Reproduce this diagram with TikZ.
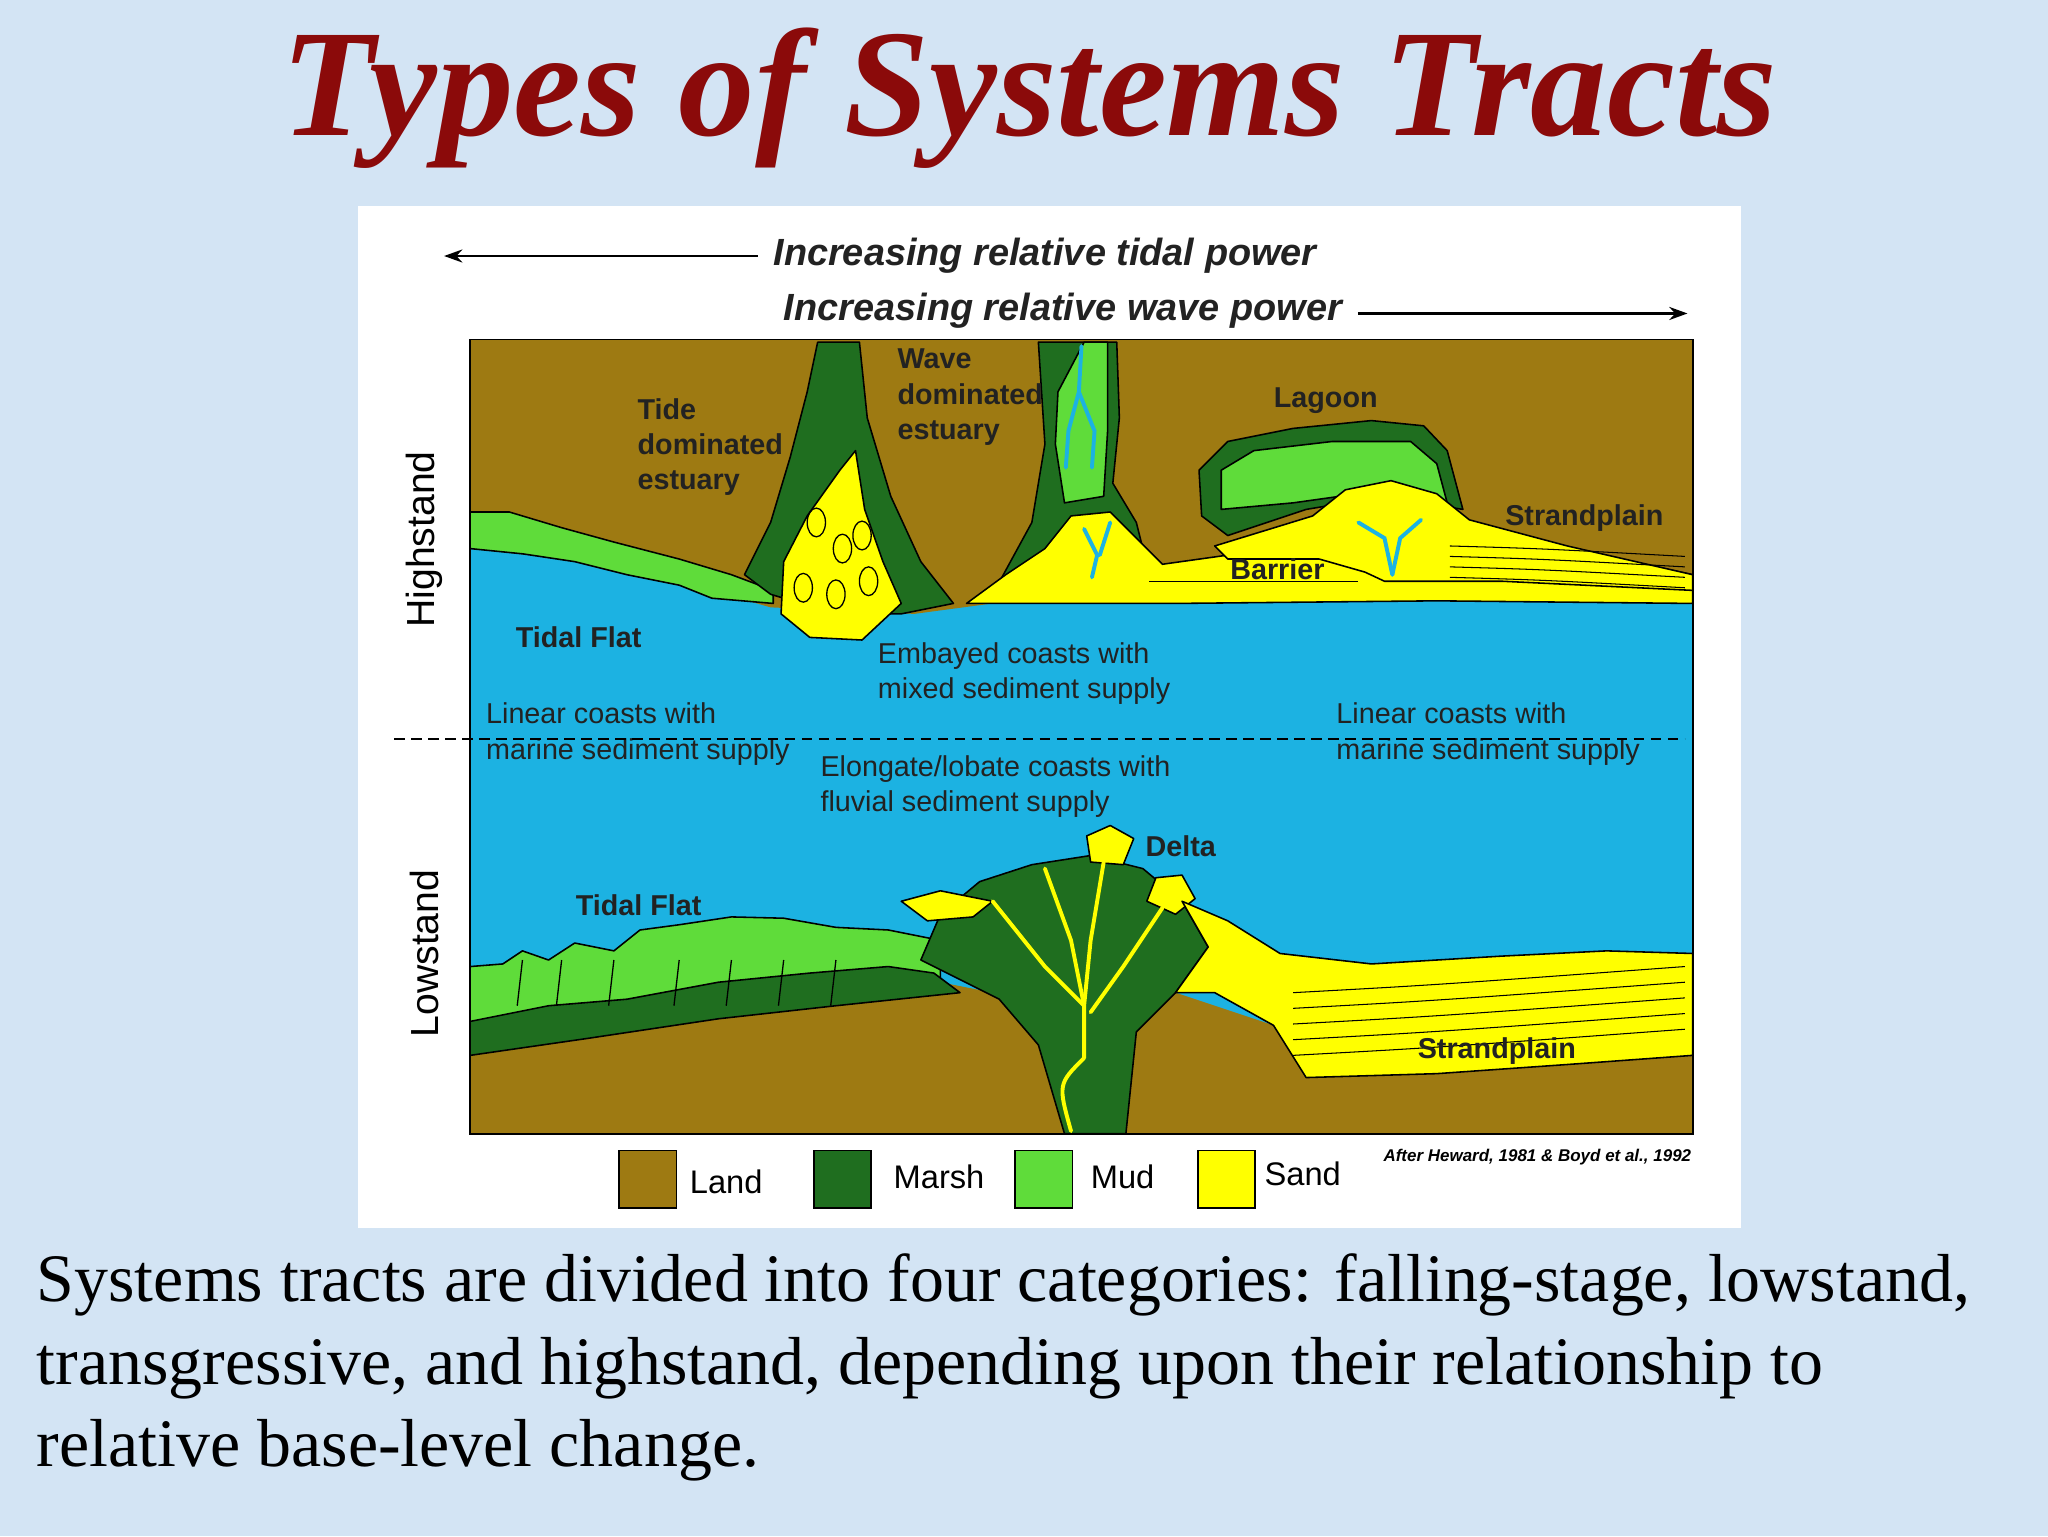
\documentclass[tikz,border=0pt]{standalone}
\usepackage{fontspec}
\setmainfont{Liberation Serif}
\setsansfont{Liberation Sans}
\usetikzlibrary{arrows.meta}
\definecolor{bgc}{HTML}{D3E4F4}
\definecolor{ttl}{HTML}{8B0A0A}
\definecolor{land}{HTML}{9E7A12}
\definecolor{marsh}{HTML}{1F6E1F}
\definecolor{mud}{HTML}{5FDC3A}
\definecolor{sand}{HTML}{FFFF00}
\definecolor{water}{HTML}{1CB2E2}
\definecolor{ink}{HTML}{222222}
\tikzset{
 lbl/.style={font=\sffamily\bfseries\fontsize{22}{27}\selectfont,text=ink,align=left,inner sep=0pt},
 rlbl/.style={font=\sffamily\fontsize{22}{27}\selectfont,text=ink,align=left,inner sep=0pt,anchor=north west},
 hdr/.style={font=\sffamily\bfseries\itshape\fontsize{29}{30}\selectfont,text=ink,inner sep=0pt},
 ol/.style={draw=black,line width=1.2pt,line join=round},
 lg/.style={draw=black,line width=1.2pt,minimum width=44pt,minimum height=44pt,inner sep=0pt},
 lgt/.style={font=\sffamily\fontsize{25}{26}\selectfont,anchor=west,inner sep=0pt},
 chan/.style={draw=sand,line width=3pt,line cap=round},
 bchan/.style={draw=water,line width=3pt,line cap=round},
 strand/.style={draw=black,line width=0.8pt}
}
\begin{document}
\begin{tikzpicture}[x=1pt,y=-1pt]
\useasboundingbox (0,0) rectangle (1568,1176);
\fill[bgc] (0,0) rectangle (1568,1176);
\node[font=\bfseries\itshape\fontsize{117}{117}\selectfont,text=ttl,inner sep=0pt] (title) at (788,75) {Types of Systems Tracts};
\fill[white] (274,158) rectangle (1333,940);
% headers
\node[hdr,anchor=west] (tidal) at (592,196) {Increasing relative tidal power};
\coordinate (ta) at (340,196);
\draw[line width=2pt,-{Stealth[length=14pt,width=10pt]}] (tidal.west)+(-12,0) -- (ta);
\node[hdr,anchor=west] (wave) at (600,238) {Increasing relative wave power};
\coordinate (wa) at (1292,240);
\draw[line width=2pt,-{Stealth[length=14pt,width=10pt]}] (wave.east)+(12,2) -- (wa);
% map water
\fill[water] (360,260) rectangle (1296,868);
% ---------- highstand ----------
\fill[land] (360,260) -- (1296,260) -- (1296,440) -- (760,462) -- (700,470) -- (590,465) -- (520,445) -- (450,430) -- (360,420) -- cycle;
\filldraw[fill=mud,ol] (360,392) -- (390,392) -- (430,404) -- (470,415) -- (520,428) -- (560,440) -- (592,452) -- (592,462) -- (545,458) -- (520,448) -- (480,440) -- (440,430) -- (400,424) -- (360,420);
\filldraw[fill=marsh,ol] (626,262) -- (658,262) -- (664,320) -- (682,380) -- (705,430) -- (730,462) -- (690,470) -- (640,470) -- (590,455) -- (570,440) -- (590,400) -- (605,350) -- (618,300) -- cycle;
\filldraw[fill=sand,ol] (643,360) -- (655,345) -- (662,390) -- (676,430) -- (690,462) -- (660,490) -- (620,488) -- (598,470) -- (600,430) -- (618,395) -- cycle;
\foreach \p in {(625,400),(645,420),(615,450),(640,455),(665,445),(660,410)}{\draw[black,line width=1pt] \p ellipse (7 and 11);}
% wave estuary
\filldraw[fill=marsh,ol] (795,262) -- (855,262) -- (857,320) -- (852,370) -- (870,400) -- (880,440) -- (760,455) -- (790,400) -- (800,340) -- cycle;
\filldraw[fill=mud,ol] (810,300) -- (830,262) -- (848,262) -- (848,330) -- (845,380) -- (815,385) -- (808,340) -- cycle;
\draw[bchan] (828,265) -- (826,300) -- (818,330) -- (816,358);
\draw[bchan] (826,300) -- (838,330) -- (836,358);
\filldraw[fill=sand,ol] (740,462) -- (770,440) -- (800,420) -- (820,395) -- (850,392) -- (878,420) -- (890,432) -- (940,425) -- (1000,420) -- (1060,410) -- (1120,400) -- (1200,420) -- (1296,440) -- (1296,462) -- (1100,460) -- (900,462) -- cycle;
\draw[bchan] (830,405) -- (840,425) -- (836,442);
\draw[bchan] (850,400) -- (842,425);
% lagoon
\filldraw[fill=marsh,ol] (920,395) -- (918,360) -- (940,338) -- (990,328) -- (1050,322) -- (1090,326) -- (1108,345) -- (1120,390) -- (1060,380) -- (1000,390) -- (940,410) -- cycle;
\filldraw[fill=mud,ol] (935,390) -- (935,360) -- (960,345) -- (1020,338) -- (1080,338) -- (1100,355) -- (1108,385) -- (1040,378) -- (990,385) -- cycle;
\filldraw[fill=sand,ol] (1005,395) -- (1030,375) -- (1065,368) -- (1100,378) -- (1125,398) -- (1200,418) -- (1296,440) -- (1296,452) -- (1150,445) -- (1060,445) -- (1045,438) -- (1010,428) -- (940,428) -- (930,418) -- cycle;
\draw[bchan] (1040,400) -- (1060,412) -- (1066,440);
\draw[bchan] (1088,398) -- (1072,412) -- (1066,440);
\foreach \yy in {418,426,434,442}{\draw[strand] (1110,\yy) .. controls (1180,\yy+2) .. (1290,\yy+8);}
\draw[strand] (880,445) -- (1040,445);
% ---------- lowstand ----------
\fill[land] (360,800) -- (720,752) -- (760,760) -- (900,760) -- (975,785) -- (1000,825) -- (1296,808) -- (1296,868) -- (360,868) -- cycle;
\filldraw[fill=mud,ol] (360,740) -- (385,738) -- (400,728) -- (420,735) -- (440,722) -- (470,728) -- (490,712) -- (520,708) -- (560,702) -- (600,703) -- (640,710) -- (680,712) -- (720,720) -- (720,752) -- (650,745) -- (560,760) -- (470,770) -- (400,780) -- (360,785) -- cycle;
\filldraw[fill=marsh,ol] (360,782) -- (420,770) -- (480,765) -- (550,752) -- (620,745) -- (680,740) -- (715,745) -- (735,760) -- (640,770) -- (550,780) -- (450,795) -- (360,808) -- cycle;
\foreach \x in {400,430,470,520,560,600,640}{\draw[black,line width=1pt] (\x,735) -- (\x-4,770);}
% delta
\filldraw[fill=marsh,ol] (705,735) -- (720,700) -- (750,675) -- (790,662) -- (835,655) -- (875,665) -- (905,690) -- (925,725) -- (900,760) -- (870,790) -- (862,868) -- (815,868) -- (795,800) -- (765,765) -- cycle;
\filldraw[fill=sand,ol] (690,690) -- (720,682) -- (760,690) -- (745,702) -- (710,705) -- cycle;
\filldraw[fill=sand,ol] (835,660) -- (832,640) -- (850,632) -- (868,642) -- (860,662) -- cycle;
\filldraw[fill=sand,ol] (878,690) -- (885,672) -- (905,670) -- (915,688) -- (900,700) -- cycle;
\draw[chan] (845,660) -- (835,720) -- (830,770) -- (830,810);
\draw[chan] (800,665) -- (820,720) -- (830,770);
\draw[chan] (760,690) -- (800,740) -- (830,770);
\draw[chan] (890,695) -- (860,740) -- (835,775);
\draw[chan] (830,810) .. controls (810,830) .. (820,866);
% right sand
\filldraw[fill=sand,ol] (905,690) -- (940,705) -- (980,730) -- (1050,738) -- (1150,732) -- (1230,728) -- (1296,730) -- (1296,808) -- (1200,815) -- (1100,822) -- (1000,825) -- (975,785) -- (930,760) -- (900,760) -- (925,725) -- cycle;
\foreach \yy in {760,772,784,796,808}{\draw[strand] (990,\yy) .. controls (1100,\yy-6) .. (1290,\yy-20);}
% labels
\node[lbl,anchor=north west] (hst) at (488,305) {Tide\\dominated\\estuary};
\node[lbl,anchor=north west] (wde) at (687,267) {Wave\\dominated\\estuary};
\node[lbl] (lag) at (1015,307) {Lagoon};
\node[lbl] (sp1) at (1213,397) {Strandplain};
\node[lbl] (bar) at (978,436) {Barrier};
\node[lbl] (tf1) at (443,488) {Tidal Flat};
\node[rlbl] (emb) at (672,492) {Embayed coasts with\\mixed sediment supply};
\node[rlbl] (lin1) at (372,538) {Linear coasts with\\marine sediment supply};
\node[rlbl] (lin2) at (1023,538) {Linear coasts with\\marine sediment supply};
\node[rlbl] (elo) at (628,578) {Elongate/lobate coasts with\\fluvial sediment supply};
\node[lbl] (del) at (904,648) {Delta};
\node[lbl] (tf2) at (489,693) {Tidal Flat};
\node[lbl] (sp2) at (1146,805) {Strandplain};
\draw[black,line width=1.3pt,dashed,dash pattern=on 8pt off 5pt] (302,566) -- (1290,566);
\draw[black,line width=1.3pt] (360,260) rectangle (1296,868);
\node[font=\sffamily\fontsize{30}{30}\selectfont,rotate=90,inner sep=0pt] (hs) at (325,413) {Highstand};
\node[font=\sffamily\fontsize{30}{30}\selectfont,rotate=90,inner sep=0pt] (ls) at (325,730) {Lowstand};
% legend
\node[lg,fill=land] (lland) at (496,903) {};
\node[lgt] (tland) at (528,905) {Land};
\node[lg,fill=marsh] (lmarsh) at (645,903) {};
\node[lgt] (tmarsh) at (684,901) {Marsh};
\node[lg,fill=mud] (lmud) at (799,903) {};
\node[lgt] (tmud) at (835,901) {Mud};
\node[lg,fill=sand] (lsand) at (939,903) {};
\node[lgt] (tsand) at (968,899) {Sand};
\node[font=\sffamily\bfseries\itshape\fontsize{13}{14}\selectfont,anchor=east,inner sep=0pt] (cred) at (1295,886) {After Heward, 1981 \& Boyd et al., 1992};
% body text
\node[anchor=north west,align=left,inner sep=0pt,font=\fontsize{52}{63}\selectfont] (body) at (28,960) {Systems tracts are divided into four categories: falling-stage, lowstand,\\transgressive, and highstand, depending upon their relationship to\\relative base-level change.};
\end{tikzpicture}
\end{document}
